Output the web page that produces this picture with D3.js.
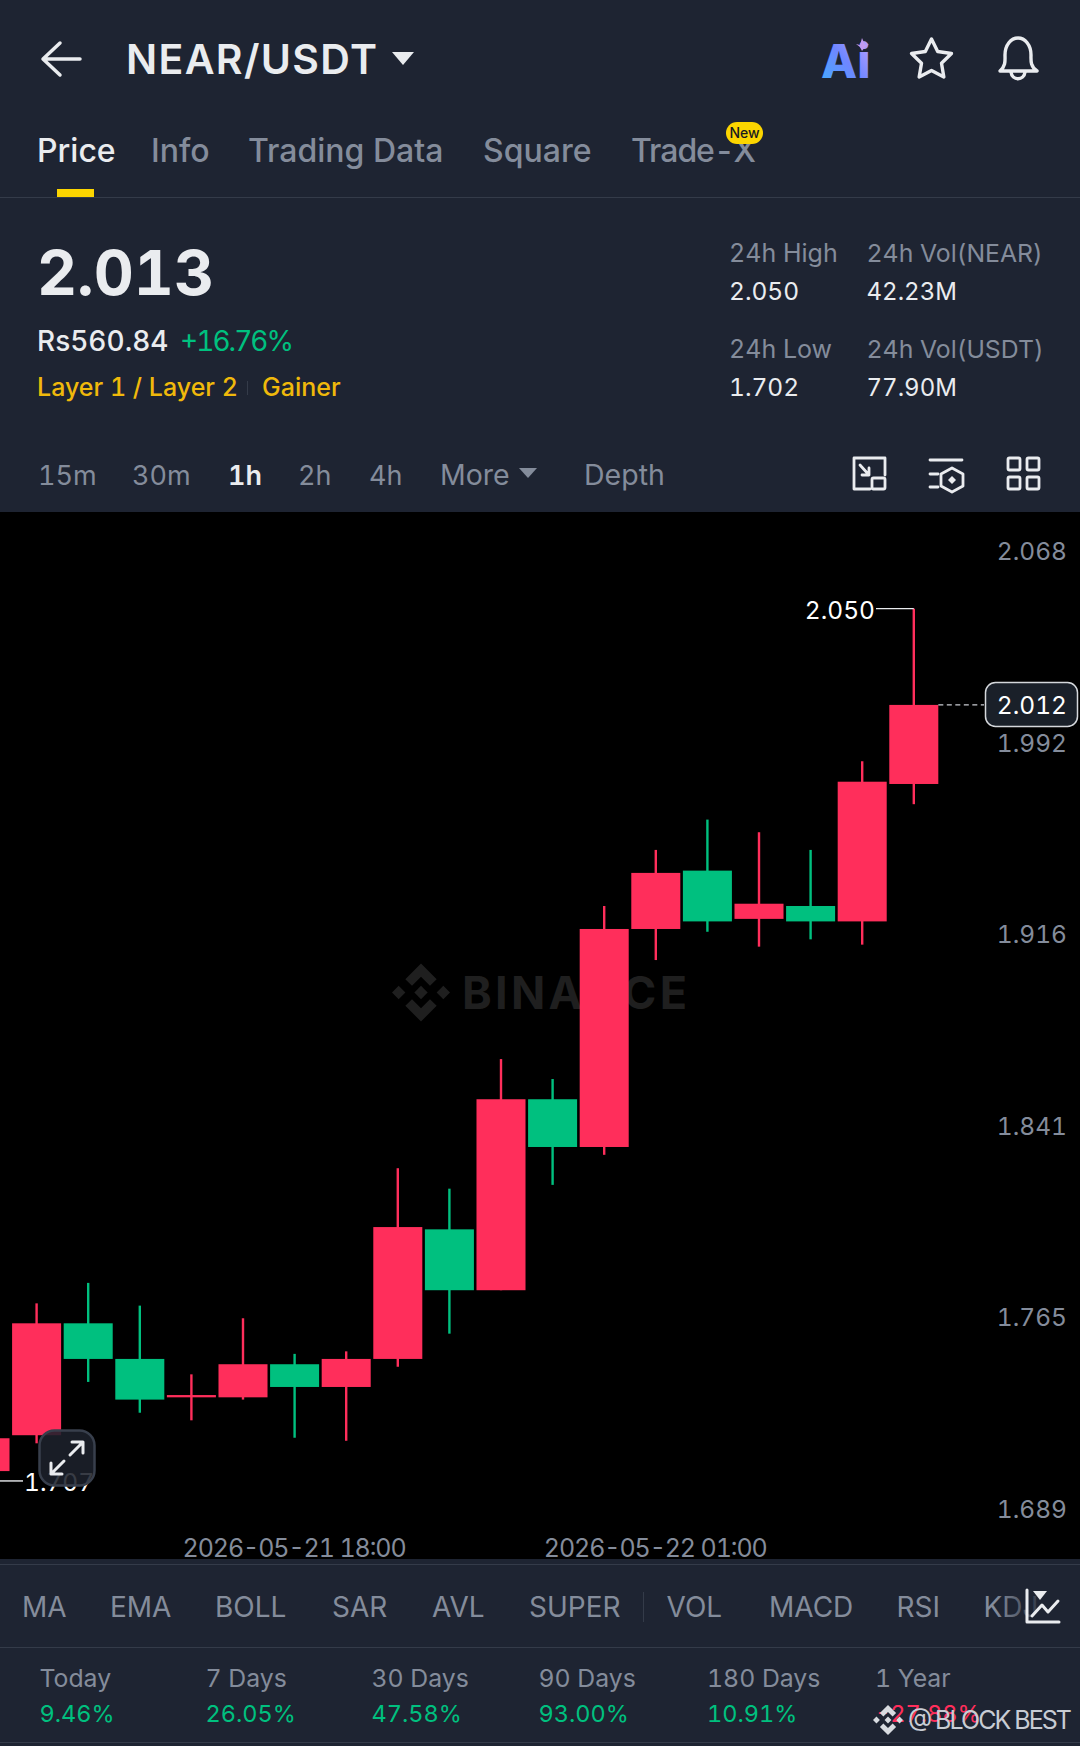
<!DOCTYPE html>
<html>
<head>
<meta charset="utf-8">
<script src="https://cdn.jsdelivr.net/npm/d3@7"></script>
<style>
  html, body { margin: 0; padding: 0; background: #1e2432; }
  svg { display: block; font-family: Inter, "Noto Sans", sans-serif; font-feature-settings: "tnum"; }
</style>
</head>
<body>
<div id="chart"></div>
<script>
// hourly candles, 2026-05-21 12:00 to 2026-05-22 06:00
const times = ["05-21 12:00", "05-21 13:00", "05-21 14:00", "05-21 15:00", "05-21 16:00", "05-21 17:00", "05-21 18:00",
    "05-21 19:00", "05-21 20:00", "05-21 21:00", "05-21 22:00", "05-21 23:00", "05-22 00:00", "05-22 01:00",
    "05-22 02:00", "05-22 03:00", "05-22 04:00", "05-22 05:00", "05-22 06:00"];
const opens = [1.7086, 1.7228, 1.7671, 1.7530, 1.7378, 1.7378, 1.7509, 1.7419, 1.7530, 1.8043, 1.7802, 1.8558, 1.8369, 1.9232, 1.9463, 1.9272, 1.9323, 1.9262, 1.9806];
const closes = [1.7216, 1.7671, 1.7530, 1.7369, 1.7387, 1.7509, 1.7419, 1.7530, 1.8052, 1.7802, 1.8558, 1.8369, 1.9232, 1.9454, 1.9262, 1.9332, 1.9262, 1.9815, 2.0119];
const highs = [1.7216, 1.7750, 1.7831, 1.7741, 1.7469, 1.7691, 1.7550, 1.7560, 1.8285, 1.8204, 1.8717, 1.8638, 1.9323, 1.9545, 1.9665, 1.9615, 1.9545, 1.9896, 2.0500];
const lows = [1.7047, 1.7196, 1.7439, 1.7317, 1.7287, 1.7369, 1.7218, 1.7206, 1.7499, 1.7630, 1.7802, 1.8219, 1.8338, 1.9109, 1.9221, 1.9162, 1.9191, 1.9170, 1.9726];

// the app spaces its price labels evenly and rounds them for display
const priceTicks = [2.068, 1.9922, 1.9164, 1.8406, 1.7648, 1.689];
const timeTicks = ["05-21 18:00", "05-22 01:00"];

const topTabs = ["Price", "Info", "Trading Data", "Square", "Trade-X"];
const intervals = ["15m", "30m", "1h", "2h", "4h", "More", "Depth"];
const indicators = ["MA", "EMA", "BOLL", "SAR", "AVL", "SUPER", "VOL", "MACD", "RSI", "KDJ"];
const periods = ["Today", "7 Days", "30 Days", "90 Days", "180 Days", "1 Year"];
const periodChanges = ["9.46%", "26.05%", "47.58%", "93.00%", "10.91%", "-27.88%"];

const RED = "#ff2e5b", GREEN = "#00c07f", GRAY = "#848c9b", WHITE = "#eaecef", YELLOW = "#f0b90b", BG = "#1e2432", LINE = "#343b49";

const svg = d3.select("#chart").append("svg")
    .attr("width", 1080)
    .attr("height", 1746)
    .attr("viewBox", "0 0 1080 1746");

// small text helper, every label on the page goes through it
function label(parent, x, y, str, size, color, weight, anchor) {
    return parent.append("text")
        .attr("x", x)
        .attr("y", y)
        .attr("font-size", size)
        .attr("fill", color)
        .attr("font-weight", weight || 400)
        .attr("text-anchor", anchor || "start")
        .text(str);
}

function icon(d, width, color) {
    return svg.append("path")
        .attr("d", d)
        .attr("fill", "none")
        .attr("stroke", color || WHITE)
        .attr("stroke-width", width || 3)
        .attr("stroke-linecap", "round")
        .attr("stroke-linejoin", "round");
}

svg.append("rect").attr("width", 1080).attr("height", 1746).attr("fill", BG);

/* header */
icon("M80 59H44M60 43L43 59L60 75", 3.5);
label(svg, 126, 74, "NEAR/USDT", 41, WHITE, 600).attr("textLength", 251);
svg.append("path").attr("d", "M392 52H414L403 65Z").attr("fill", WHITE);

const defs = svg.append("defs");
const aiGrad = defs.append("linearGradient").attr("id", "aiGrad").attr("x1", 0).attr("y1", 1).attr("x2", 1).attr("y2", 0);
aiGrad.append("stop").attr("offset", "0%").attr("stop-color", "#3fb0ff");
aiGrad.append("stop").attr("offset", "50%").attr("stop-color", "#6f86ff");
aiGrad.append("stop").attr("offset", "100%").attr("stop-color", "#c8a6ff");
label(svg, 821, 78, "Ai", 47, "url(#aiGrad)", 800);
svg.append("path").attr("d", "M862 38L865 45L869 44L865 47L862 51L860 47L856 44L860 45Z").attr("fill", "#c39bf0");

// star
const starPts = d3.range(10).map(function (i) {
    const r = i % 2 ? 10.5 : 21;
    const a = -Math.PI / 2 + i * Math.PI / 5;
    return [931.5 + r * Math.cos(a), 60 + r * Math.sin(a)];
});
icon("M" + starPts.join("L") + "Z", 3.4);
// bell
icon("M1000 71C1006 66 1005 60 1005 55C1005 45 1011 38 1018 38C1025 38 1031 45 1031 55C1031 60 1030 66 1037 71Z", 3.4);
icon("M1011 72C1012 81 1024 81 1025 72", 3.4);

/* tabs */
const tabX = [37, 151, 248, 483, 631];
topTabs.forEach(function (t, i) {
    const tab = label(svg, tabX[i], 162, t, 32, i === 0 ? WHITE : GRAY, 500);
    if (t === "Trade-X") tab.attr("textLength", 125);
});
svg.append("rect").attr("x", 57).attr("y", 189).attr("width", 37).attr("height", 8).attr("fill", "#fcd500");
svg.append("rect").attr("x", 0).attr("y", 197).attr("width", 1080).attr("height", 1).attr("fill", LINE);
svg.append("rect").attr("x", 726).attr("y", 122).attr("width", 37).attr("height", 22).attr("rx", 11).attr("fill", "#fcd500");
label(svg, 744.5, 138, "New", 14, "#181a20", 500, "middle");

/* price block */
label(svg, 37, 295, "2.013", 62, WHITE, 700);
label(svg, 37, 351, "Rs560.84", 28, WHITE, 500);
label(svg, 180, 351, "+16.76%", 28, GREEN, 400).attr("textLength", 114);
label(svg, 37, 396, "Layer 1 / Layer 2", 25, YELLOW, 500);
svg.append("rect").attr("x", 247).attr("y", 381).attr("width", 1).attr("height", 14).attr("fill", LINE);
label(svg, 262, 396, "Gainer", 25, YELLOW, 500);

label(svg, 729, 262, "24h High", 25, GRAY);
label(svg, 866.5, 262, "24h Vol(NEAR)", 24.8, GRAY);
label(svg, 729, 300, "2.050", 24.5, WHITE);
label(svg, 866.5, 300, "42.23M", 24, WHITE);
label(svg, 729, 358, "24h Low", 25, GRAY);
label(svg, 866.5, 358, "24h Vol(USDT)", 24.8, GRAY);
label(svg, 729, 396, "1.702", 24.5, WHITE);
label(svg, 866.5, 396, "77.90M", 24, WHITE);

/* interval row */
const intervalX = [38, 132, 228, 298, 369, 440, 584];
intervals.forEach(function (t, i) {
    label(svg, intervalX[i], 485, t, i < 5 ? 27 : 28.5, t === "1h" ? WHITE : GRAY, t === "1h" ? 600 : 400);
});
svg.append("path").attr("d", "M519 468H537L528 478Z").attr("fill", GRAY);
icon("M885 475V458H854V489H870M860 465L869 475M869 468V475H862", 2.8);
svg.append("rect").attr("x", 872).attr("y", 478).attr("width", 13).attr("height", 11).attr("rx", 1.5)
    .attr("fill", "none").attr("stroke", WHITE).attr("stroke-width", 2.8);
icon("M930 460H962M930 474H938M930 487H938", 2.8);
icon("M952 468L963 474V486L952 492L941 486V474Z", 2.8);
svg.append("path").attr("d", "M952 476L956 480L952 484L948 480Z").attr("fill", WHITE);
[[1008, 458], [1027, 458], [1008, 477], [1027, 477]].forEach(function (p) {
    svg.append("rect").attr("x", p[0]).attr("y", p[1]).attr("width", 12).attr("height", 12).attr("rx", 1.5)
        .attr("fill", "none").attr("stroke", WHITE).attr("stroke-width", 2.8);
});

/* chart panel */
svg.append("rect").attr("x", 0).attr("y", 512).attr("width", 1080).attr("height", 1047).attr("fill", "#000");

defs.append("clipPath").attr("id", "plotClip").append("rect")
    .attr("x", 0).attr("y", 512).attr("width", 1080).attr("height", 1047);

const plot = svg.append("g").attr("clip-path", "url(#plotClip)");

// watermark sits under the candles
const logoCells = [
    [[0, -1], [0.54, -0.46], [0.31, -0.23], [0, -0.54], [-0.31, -0.23], [-0.54, -0.46]],
    [[0, 1], [0.54, 0.46], [0.31, 0.23], [0, 0.54], [-0.31, 0.23], [-0.54, 0.46]],
    [[0, -0.23], [0.23, 0], [0, 0.23], [-0.23, 0]],
    [[-0.77, -0.23], [-0.54, 0], [-0.77, 0.23], [-1, 0]],
    [[0.77, -0.23], [1, 0], [0.77, 0.23], [0.54, 0]]
];
function logo(parent, cx, cy, s, color) {
    logoCells.forEach(function (cell) {
        parent.append("polygon")
            .attr("points", cell.map(function (p) { return [cx + p[0] * s, cy + p[1] * s].join(","); }).join(" "))
            .attr("fill", color);
    });
}
logo(plot, 421, 992.5, 29, "#1f1f1f");
label(plot, 462, 1009, "BINANCE", 45, "#1f1f1f", 700).attr("textLength", 225);

const xScale = d3.scaleBand()
    .domain(times)
    .range([-40.8, 939.6])
    .paddingInner(0.05)
    .paddingOuter(0.025);

const yScale = d3.scaleLinear()
    .domain([1.689, 2.068])
    .range([1520.6, 563.2]);

const candles = times.map(function (t, i) {
    return { t: t, open: opens[i], close: closes[i], high: highs[i], low: lows[i] };
});
const candleColor = function (d) { return d.close >= d.open ? RED : GREEN; };

plot.selectAll("line.wick")
    .data(candles)
    .enter()
    .append("line")
    .attr("class", "wick")
    .attr("x1", function (d) { return xScale(d.t) + xScale.bandwidth() / 2; })
    .attr("x2", function (d) { return xScale(d.t) + xScale.bandwidth() / 2; })
    .attr("y1", function (d) { return yScale(d.high); })
    .attr("y2", function (d) { return yScale(d.low); })
    .attr("stroke", candleColor)
    .attr("stroke-width", 2.4);

plot.selectAll("rect.body")
    .data(candles)
    .enter()
    .append("rect")
    .attr("class", "body")
    .attr("x", function (d) { return xScale(d.t); })
    .attr("y", function (d) { return yScale(Math.max(d.open, d.close)); })
    .attr("width", xScale.bandwidth())
    .attr("height", function (d) { return Math.max(2, Math.abs(yScale(d.open) - yScale(d.close))); })
    .attr("fill", candleColor);

// price axis, labels sit just above their level
const yAxis = svg.append("g")
    .attr("transform", "translate(1067,0)")
    .call(d3.axisRight(yScale).tickValues(priceTicks).tickSize(0).tickPadding(0).tickFormat(d3.format(".3f")));
yAxis.select(".domain").remove();
yAxis.selectAll("text")
    .attr("x", 0)
    .attr("dy", -3.3)
    .attr("text-anchor", "end")
    .attr("font-family", "Inter, 'Noto Sans', sans-serif")
    .attr("font-size", 24.5)
    .attr("fill", GRAY);

// time axis
const xAxis = svg.append("g")
    .attr("transform", "translate(0,1557)")
    .call(d3.axisBottom(xScale).tickValues(timeTicks).tickSize(0).tickPadding(0).tickFormat(function (d) { return "2026-" + d; }));
xAxis.select(".domain").remove();
xAxis.selectAll("text")
    .attr("y", 0)
    .attr("dy", 0)
    .attr("font-family", "Inter, 'Noto Sans', sans-serif")
    .attr("font-size", 25)
    .attr("textLength", 224)
    .attr("fill", GRAY);

// high / low callouts
const last = candles[candles.length - 1];
const lastX = xScale(last.t) + xScale.bandwidth() / 2;
plot.append("line")
    .attr("x1", 876).attr("x2", lastX)
    .attr("y1", yScale(last.high)).attr("y2", yScale(last.high))
    .attr("stroke", WHITE).attr("stroke-width", 1.4);
label(plot, 875, yScale(last.high) + 10, "2.050", 24.5, "#fff", 400, "end");
plot.append("line")
    .attr("x1", 0).attr("x2", 23)
    .attr("y1", yScale(lows[0])).attr("y2", yScale(lows[0]))
    .attr("stroke", WHITE).attr("stroke-width", 1.4);
label(plot, 24, yScale(lows[0]) + 10, "1.707", 24.5, "#fff");

// last price tag
plot.append("line")
    .attr("x1", xScale(last.t) + xScale.bandwidth()).attr("x2", 984)
    .attr("y1", yScale(last.close)).attr("y2", yScale(last.close))
    .attr("stroke", "#c9ccd2").attr("stroke-width", 1.4).attr("stroke-dasharray", "5,3.5");
svg.append("rect")
    .attr("x", 985.5).attr("y", 682.5).attr("width", 92).attr("height", 44).attr("rx", 10)
    .attr("fill", "#1a2029").attr("stroke", "#d5d8dc").attr("stroke-width", 1.5);
label(svg, 1067, yScale(last.close) + 9.5, "2.012", 24.5, "#fff", 400, "end");

// expand button
svg.append("rect")
    .attr("x", 39.5).attr("y", 1430.5).attr("width", 55).attr("height", 55).attr("rx", 15)
    .attr("fill", "#1c212b").attr("fill-opacity", 0.88)
    .attr("stroke", "#383f4c").attr("stroke-width", 2.5);
icon("M70 1455L83 1442M72 1442H83V1453", 3);
icon("M64 1461L52 1473M51 1463V1474H62", 3);

/* indicator row */
svg.append("rect").attr("x", 0).attr("y", 1564).attr("width", 1080).attr("height", 1).attr("fill", LINE);
const indicatorX = [22, 110, 215, 332, 432, 529, 666.5, 769, 896.5, 983.5];
indicators.forEach(function (t, i) {
    label(svg, indicatorX[i], 1617, t, 28, GRAY);
});
svg.append("rect").attr("x", 643).attr("y", 1592).attr("width", 1).attr("height", 30).attr("fill", LINE);

const fade = defs.append("linearGradient").attr("id", "kdFade");
fade.append("stop").attr("offset", "0%").attr("stop-color", BG).attr("stop-opacity", 0);
fade.append("stop").attr("offset", "65%").attr("stop-color", BG).attr("stop-opacity", 1);
svg.append("rect").attr("x", 995).attr("y", 1585).attr("width", 85).attr("height", 45).attr("fill", "url(#kdFade)");
icon("M1027 1590V1622H1059", 3);
icon("M1032 1616L1042 1605L1048 1612L1058 1601", 3);
svg.append("path").attr("d", "M1033 1591H1047L1040 1600Z").attr("fill", WHITE);

/* period performance */
svg.append("rect").attr("x", 0).attr("y", 1647).attr("width", 1080).attr("height", 1).attr("fill", LINE);
svg.append("rect").attr("x", 0).attr("y", 1742).attr("width", 1080).attr("height", 1).attr("fill", LINE);
const periodX = [39.5, 205.5, 371.5, 538.5, 707, 875];
periods.forEach(function (t, i) {
    label(svg, periodX[i], 1687, t, 24.8, GRAY);
    label(svg, periodX[i], 1722, periodChanges[i], 23.5, periodChanges[i][0] === "-" ? RED : GREEN);
});

// repost watermark over the last column
logo(svg, 888, 1720, 15, "#d8dbe0");
label(svg, 908, 1729, "@ BLOCK BEST", 25, "#c8ccd4").attr("textLength", 164);
</script>
</body>
</html>
